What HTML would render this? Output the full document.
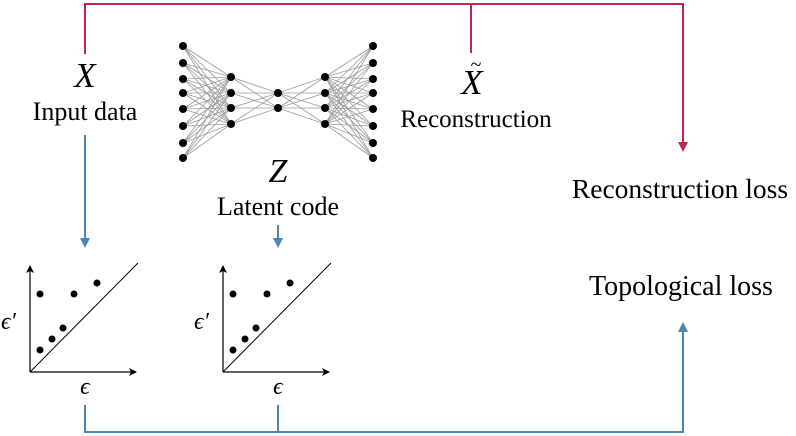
<!DOCTYPE html>
<html><head><meta charset="utf-8"><style>
html,body{margin:0;padding:0;background:#fff;width:796px;height:436px;overflow:hidden}
text{font-family:"Liberation Serif",serif;fill:#000}
</style></head><body>
<svg id="s" width="796" height="436" viewBox="0 0 796 436" xmlns="http://www.w3.org/2000/svg">
<defs>
<marker id="ar" markerWidth="10" markerHeight="10" refX="8" refY="5" orient="auto" markerUnits="userSpaceOnUse"><path d="M0,0 L10,5 L0,10 Z" fill="#c0284a"/></marker>
<marker id="ab" markerWidth="10" markerHeight="10" refX="8" refY="5" orient="auto" markerUnits="userSpaceOnUse"><path d="M0,0 L10,5 L0,10 Z" fill="#4a85b5"/></marker>
<marker id="ak" markerWidth="8" markerHeight="8" refX="7" refY="4" orient="auto" markerUnits="userSpaceOnUse"><path d="M0,0 L8,4 L0,8 L2,4 Z" fill="#000"/></marker>
</defs>
<g id="edges" stroke="#9a9a9a" stroke-width="0.8"></g>
<g id="nodes" fill="#000"></g>
<g stroke="#c0284a" stroke-width="2" fill="none">
<polyline points="85,54 85,4 683,4 683,150" marker-end="url(#ar)"/>
<line x1="471" y1="4" x2="471" y2="53"/>
</g>
<g stroke="#4a85b5" stroke-width="2" fill="none">
<line x1="85" y1="135" x2="85" y2="246" marker-end="url(#ab)"/>
<line x1="278" y1="225" x2="278" y2="246" marker-end="url(#ab)"/>
<polyline points="85,405 85,432 683,432 683,324" marker-end="url(#ab)"/>
<line x1="278" y1="405" x2="278" y2="432"/>
</g>
<g id="plots"></g>
<text x="85" y="87" font-size="35" font-style="italic" text-anchor="middle">X</text>
<text x="85" y="120" font-size="26" text-anchor="middle">Input data</text>
<text x="278" y="182" font-size="34" font-style="italic" text-anchor="middle">Z</text>
<text x="278" y="215" font-size="26" text-anchor="middle">Latent code</text>
<text x="472" y="94" font-size="35" font-style="italic" text-anchor="middle">X</text>
<text x="476" y="71" font-size="20" text-anchor="middle">~</text>
<text x="476" y="127" font-size="25" text-anchor="middle">Reconstruction</text>
<text x="680" y="198" font-size="27.5" text-anchor="middle">Reconstruction loss</text>
<text x="681" y="295" font-size="28" text-anchor="middle">Topological loss</text>
</svg>
<script>
var NS="http://www.w3.org/2000/svg";
function el(p,t,a){var e=document.createElementNS(NS,t);for(var k in a)e.setAttribute(k,a[k]);p.appendChild(e);return e;}
var L=[[183,[46,63,79,93,109,126,143,158]],[231,[77,93,108,124]],[278,[93,108]],[325,[77,93,108,124]],[373,[46,63,79,93,109,126,143,158]]];
var E=document.getElementById('edges'),N=document.getElementById('nodes');
for(var i=0;i<4;i++){var a=L[i],b=L[i+1];a[1].forEach(function(y1){b[1].forEach(function(y2){el(E,'line',{x1:a[0],y1:y1,x2:b[0],y2:y2});});});}
L.forEach(function(l){l[1].forEach(function(y){el(N,'circle',{cx:l[0],cy:y,r:4});});});
var P=document.getElementById('plots');
[0,193].forEach(function(o){
 var g=el(P,'g',{});
 el(g,'line',{x1:30+o,y1:372,x2:30+o,y2:266,stroke:'#000','stroke-width':1.2,'marker-end':'url(#ak)'});
 el(g,'line',{x1:30+o,y1:372,x2:136+o,y2:372,stroke:'#000','stroke-width':1.2,'marker-end':'url(#ak)'});
 el(g,'line',{x1:30+o,y1:372,x2:138+o,y2:263,stroke:'#000','stroke-width':1});
 [[40,294],[74,294],[97,283],[40,350],[52,339],[63,328]].forEach(function(p){el(g,'circle',{cx:p[0]+o,cy:p[1],r:3.5,fill:'#000'});});
 var t=el(g,'text',{x:1+o,y:329,'font-size':24,'font-style':'italic'});t.textContent="\u03F5\u2032";
 var t2=el(g,'text',{x:85+o,y:394,'font-size':24,'font-style':'italic','text-anchor':'middle'});t2.textContent="\u03F5";
});
</script>
</body></html>
